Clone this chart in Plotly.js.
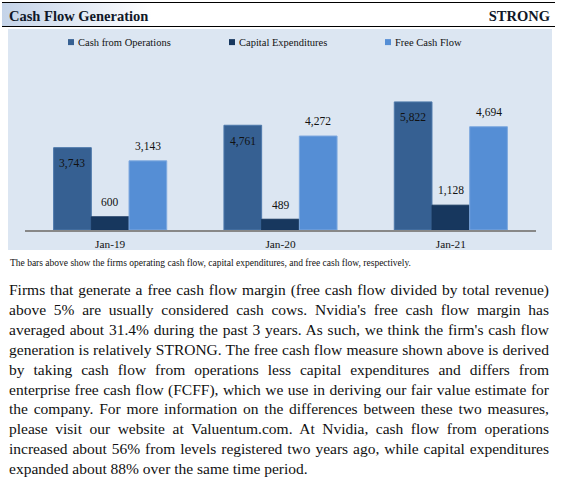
<!DOCTYPE html>
<html>
<head>
<meta charset="utf-8">
<script src="https://cdn.plot.ly/plotly-3.0.1.min.js"></script>
<style>
  html, body { margin: 0; padding: 0; background: #ffffff; }
  body { width: 561px; height: 483px; position: relative; overflow: hidden; font-family: "Liberation Serif", "Times New Roman", serif; color: #111; }
  #header { position: absolute; left: 2px; top: 2px; width: 553px; height: 23px;
            border-top: 1.5px solid #000; border-bottom: 1.5px solid #000;
            background: linear-gradient(to right, #c4d3e8 0px, #ffffff 150px); }
  #htitle { position: absolute; left: 9px; top: 6px; line-height: 20px; font-size: 14.5px; font-weight: bold; color: #101828; white-space: nowrap; }
  #hrating { position: absolute; right: 11px; top: 6px; line-height: 20px; font-size: 14.5px; font-weight: bold; color: #101828; white-space: nowrap; }
  #chart { position: absolute; left: 8px; top: 29px; width: 544px; height: 221px; }
  #caption { position: absolute; left: 10px; top: 256.5px; line-height: 12px; font-size: 9.5px; white-space: nowrap; color: #111; }
  #para { position: absolute; left: 9px; top: 280px; width: 540px; font-size: 15.5px; line-height: 19.9px; color: #111; }
  #para div { text-align: justify; text-align-last: justify; white-space: normal; }
  #para div.last { text-align-last: left; }
</style>
</head>
<body>
<div id="header"></div>
<div id="htitle"></div>
<div id="hrating"></div>
<div id="chart"></div>
<div id="caption"></div>
<div id="para"></div>
<script>
// ---- Data ----
const categories = ["Jan-19", "Jan-20", "Jan-21"];
const seriesNames = ["Cash from Operations", "Capital Expenditures", "Free Cash Flow"];
const cashFromOperations = [3743, 4761, 5822];
const capitalExpenditures = [600, 489, 1128];
const freeCashFlow = [3143, 4272, 4694];
const sectionTitle = "Cash Flow Generation";
const rating = "STRONG";
const captionText = "The bars above show the firms operating cash flow, capital expenditures, and free cash flow, respectively.";
const paragraphLines = [
  "Firms that generate a free cash flow margin (free cash flow divided by total revenue)",
  "above 5% are usually considered cash cows. Nvidia's free cash flow margin has",
  "averaged about 31.4% during the past 3 years. As such, we think the firm's cash flow",
  "generation is relatively STRONG. The free cash flow measure shown above is derived",
  "by taking cash flow from operations less capital expenditures and differs from",
  "enterprise free cash flow (FCFF), which we use in deriving our fair value estimate for",
  "the company. For more information on the differences between these two measures,",
  "please visit our website at Valuentum.com. At Nvidia, cash flow from operations",
  "increased about 56% from levels registered two years ago, while capital expenditures",
  "expanded about 88% over the same time period."
];

// ---- Text blocks ----
document.getElementById("htitle").textContent = sectionTitle;
document.getElementById("hrating").textContent = rating;
document.getElementById("caption").textContent = captionText;
const para = document.getElementById("para");
paragraphLines.forEach((ln, i) => {
  const d = document.createElement("div");
  d.textContent = ln;
  if (i === paragraphLines.length - 1) d.className = "last";
  para.appendChild(d);
});

// ---- Chart ----
const FONT = "Liberation Serif";
const seriesValues = [cashFromOperations, capitalExpenditures, freeCashFlow];
const colors = ["#366092", "#17375e", "#558ed5"];
const edgeColors = ["#4d78aa", "#17375e", "#7ea9df"];
const labelShift = [-16, 14.5, 14.5];

const W = 544, H = 221;
const M = { l: 17, r: 16, t: 46.5, b: 20 };
const plotW = W - M.l - M.r, plotH = H - M.t - M.b;
const bargap = 0.336;
const barPx = plotW / categories.length * (1 - bargap) / seriesValues.length;

const traces = seriesValues.map((vals, i) => ({
  type: "bar",
  name: seriesNames[i],
  x: categories,
  y: vals,
  marker: { color: colors[i], line: { color: edgeColors[i], width: 1 } },
  hoverinfo: "skip",
  showlegend: false
}));

const fmt = v => v.toLocaleString("en-US");
const annotations = [];
seriesValues.forEach((vals, i) => {
  vals.forEach((v, j) => {
    annotations.push({
      x: categories[j], y: v, xref: "x", yref: "y",
      xshift: (i - 1) * barPx, yshift: labelShift[i],
      text: fmt(v), showarrow: false, xanchor: "center", yanchor: "middle",
      font: { family: FONT, size: 11.5, color: "#111111" }
    });
  });
});

// custom legend: squares + labels (pixel positions within the chart div)
const legendSquareX = [60, 221, 377];
const legendY = 12.5;
const px2x = px => (px - M.l) / plotW;
const px2y = py => (H - M.b - py) / plotH;
const shapes = [];
seriesNames.forEach((nm, i) => {
  shapes.push({
    type: "rect", xref: "paper", yref: "paper",
    x0: px2x(legendSquareX[i]), x1: px2x(legendSquareX[i] + 6),
    y0: px2y(legendY + 3), y1: px2y(legendY - 3),
    fillcolor: colors[i], line: { width: 0 }
  });
  annotations.push({
    xref: "paper", yref: "paper",
    x: px2x(legendSquareX[i] + 7.5), y: px2y(legendY),
    text: nm, showarrow: false, xanchor: "left", yanchor: "middle",
    font: { family: FONT, size: 10.5, color: "#111111" }
  });
});

const layout = {
  width: W, height: H,
  margin: M,
  font: { family: FONT, color: "#111111" },
  paper_bgcolor: "#dce6f2",
  plot_bgcolor: "#dce6f2",
  barmode: "group",
  bargap: bargap,
  bargroupgap: 0,
  showlegend: false,
  xaxis: {
    type: "category",
    showline: true, linecolor: "#888888", linewidth: 2,
    showgrid: false, zeroline: false, ticks: "",
    ticklabelstandoff: 2,
    tickfont: { family: FONT, size: 11.3, color: "#111111" },
    fixedrange: true
  },
  yaxis: {
    range: [0, 7000], visible: false, showgrid: false, zeroline: false, fixedrange: true
  },
  shapes: shapes,
  annotations: annotations
};

Plotly.newPlot("chart", traces, layout, { displayModeBar: false, staticPlot: true });
</script>
</body>
</html>
